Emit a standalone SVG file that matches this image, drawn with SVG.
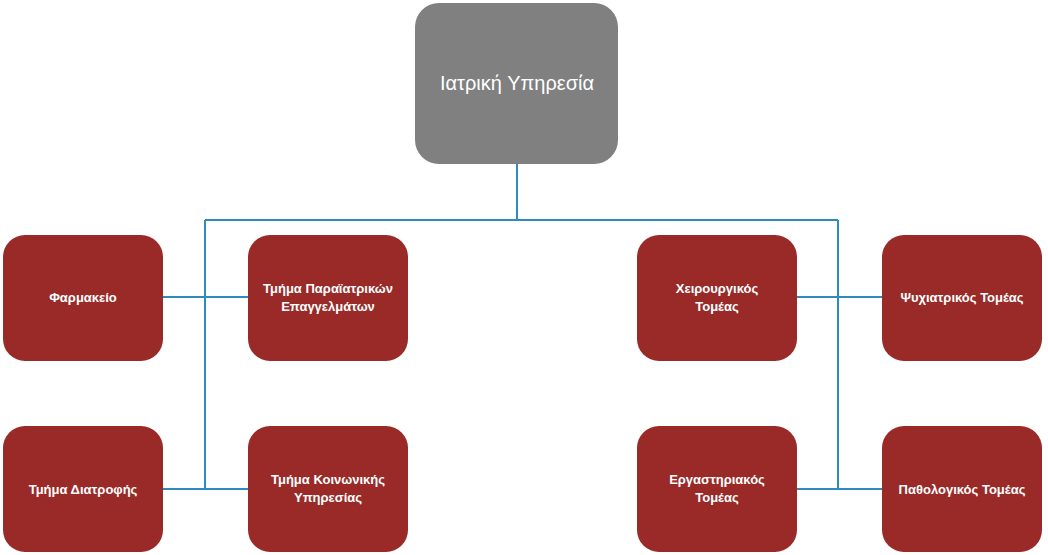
<svg xmlns="http://www.w3.org/2000/svg" width="1048" height="555" viewBox="0 0 1048 555">
<style>
.n{fill:#992a27}
.t{fill:#fff;font-family:"Liberation Sans",Arial,sans-serif;font-weight:bold;font-size:13px;text-anchor:middle}
.c{stroke:#2e8bc0;stroke-width:2;fill:none}
</style>
<rect width="1048" height="555" fill="#fff"/>
<g id="connectors">
<path class="c" d="M517 164V220M205 220H838M205 220V489M838 220V489M163 297H248M163 489H248M797 297H882M797 489H882"/>
</g>
<g id="root"><rect x="415" y="3" width="203" height="161" rx="24" fill="#808080"/><text class="t" x="517" y="90" style="font-size:20px;font-weight:normal">Ιατρική Υπηρεσία</text></g>
<g id="n1"><rect class="n" x="3" y="235" width="160" height="126" rx="22"/><text class="t" x="83" y="302">Φαρμακείο</text></g>
<g id="n2"><rect class="n" x="248" y="235" width="160" height="126" rx="22"/><text class="t" x="328" y="293">Τμήμα Παραϊατρικών</text><text class="t" x="328" y="311">Επαγγελμάτων</text></g>
<g id="n3"><rect class="n" x="3" y="426" width="160" height="126" rx="22"/><text class="t" x="83" y="494">Τμήμα Διατροφής</text></g>
<g id="n4"><rect class="n" x="248" y="426" width="160" height="126" rx="22"/><text class="t" x="328" y="484">Τμήμα Κοινωνικής</text><text class="t" x="328" y="502">Υπηρεσίας</text></g>
<g id="n5"><rect class="n" x="637" y="235" width="160" height="126" rx="22"/><text class="t" x="717" y="293">Χειρουργικός</text><text class="t" x="717" y="311">Τομέας</text></g>
<g id="n6"><rect class="n" x="882" y="235" width="160" height="126" rx="22"/><text class="t" x="962" y="302">Ψυχιατρικός Τομέας</text></g>
<g id="n7"><rect class="n" x="637" y="426" width="160" height="126" rx="22"/><text class="t" x="717" y="484">Εργαστηριακός</text><text class="t" x="717" y="502">Τομέας</text></g>
<g id="n8"><rect class="n" x="882" y="426" width="160" height="126" rx="22"/><text class="t" x="962" y="494">Παθολογικός Τομέας</text></g>
</svg>
